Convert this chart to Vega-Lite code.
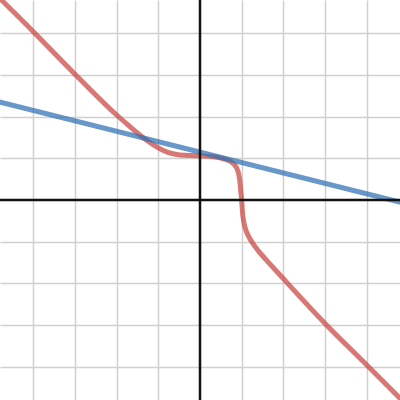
{
  "$schema": "https://vega.github.io/schema/vega-lite/v6.json",
  "description": "two curves on a desmos style grid",
  "width": 400,
  "height": 400,
  "autosize": {"type": "none"},
  "padding": 0,
  "background": "white",
  "config": {"view": {"stroke": null}},
  "datasets": {
    "curves": [
      {"series": "red", "x": -5.0, "y": 5.03},
      {"series": "red", "x": -4.0, "y": 4.04},
      {"series": "red", "x": -3.0, "y": 3.02},
      {"series": "red", "x": -2.0, "y": 2.04},
      {"series": "red", "x": -1.68, "y": 1.76},
      {"series": "red", "x": -1.37, "y": 1.5},
      {"series": "red", "x": -1.2, "y": 1.38},
      {"series": "red", "x": -1.03, "y": 1.27},
      {"series": "red", "x": -0.88, "y": 1.19},
      {"series": "red", "x": -0.65, "y": 1.11},
      {"series": "red", "x": -0.48, "y": 1.08},
      {"series": "red", "x": 0.0, "y": 1.06},
      {"series": "red", "x": 0.48, "y": 1.01},
      {"series": "red", "x": 0.72, "y": 0.93},
      {"series": "red", "x": 0.88, "y": 0.77},
      {"series": "red", "x": 0.95, "y": 0.5},
      {"series": "red", "x": 0.98, "y": 0.2},
      {"series": "red", "x": 1.0, "y": 0.0},
      {"series": "red", "x": 1.02, "y": -0.3},
      {"series": "red", "x": 1.05, "y": -0.52},
      {"series": "red", "x": 1.1, "y": -0.72},
      {"series": "red", "x": 1.16, "y": -0.86},
      {"series": "red", "x": 1.28, "y": -1.06},
      {"series": "red", "x": 1.4, "y": -1.22},
      {"series": "red", "x": 1.6, "y": -1.45},
      {"series": "red", "x": 1.92, "y": -1.8},
      {"series": "red", "x": 2.96, "y": -2.92},
      {"series": "red", "x": 3.96, "y": -3.92},
      {"series": "red", "x": 5.0, "y": -4.96},
      {"series": "blue", "x": -5.0, "y": 2.4},
      {"series": "blue", "x": 5.0, "y": -0.1}
    ],
    "axes": [
      {"dir": "x", "v": 0},
      {"dir": "y", "v": 0}
    ]
  },
  "layer": [
    {
      "data": {"name": "curves"},
      "mark": {"type": "line", "clip": true, "strokeWidth": 5, "opacity": 0.72, "strokeCap": "round", "interpolate": "monotone"},
      "encoding": {
        "x": {
          "field": "x",
          "type": "quantitative",
          "scale": {"domain": [-4.8, 4.8], "nice": false, "zero": false},
          "axis": {
            "values": [-4, -3, -2, -1, 1, 2, 3, 4],
            "labels": false,
            "ticks": false,
            "domain": false,
            "title": null,
            "grid": true,
            "gridColor": "#d0d0d0",
            "gridWidth": 1.5
          }
        },
        "y": {
          "field": "y",
          "type": "quantitative",
          "scale": {"domain": [-4.8, 4.8], "nice": false, "zero": false},
          "axis": {
            "values": [-4, -3, -2, -1, 1, 2, 3, 4],
            "labels": false,
            "ticks": false,
            "domain": false,
            "title": null,
            "grid": true,
            "gridColor": "#d0d0d0",
            "gridWidth": 1.5
          }
        },
        "color": {
          "field": "series",
          "type": "nominal",
          "scale": {"domain": ["red", "blue"], "range": ["#c74440", "#2d70b3"]},
          "legend": null
        },
        "order": {"field": "x", "type": "quantitative"}
      }
    },
    {
      "data": {"name": "axes"},
      "transform": [{"filter": "datum.dir == 'x'"}],
      "mark": {"type": "rule", "color": "#111111", "strokeWidth": 2.5},
      "encoding": {"x": {"field": "v", "type": "quantitative"}}
    },
    {
      "data": {"name": "axes"},
      "transform": [{"filter": "datum.dir == 'y'"}],
      "mark": {"type": "rule", "color": "#111111", "strokeWidth": 2.5},
      "encoding": {"y": {"field": "v", "type": "quantitative"}}
    }
  ]
}
